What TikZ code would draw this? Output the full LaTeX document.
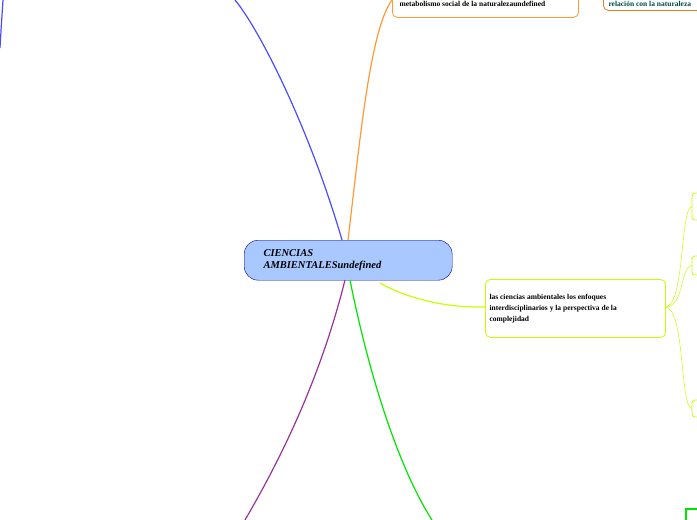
\documentclass[tikz,border=0pt]{standalone}
\usepackage{fontspec}
\setmainfont{Liberation Serif}
\definecolor{cfill}{HTML}{A8C8FF}
\begin{document}
\begin{tikzpicture}[x=1pt,y=-1pt,
  leaf/.style={draw=#1,rounded corners=5pt,line width=0.8pt,fill=white,inner sep=3pt,anchor=north west},
  br/.style={line width=1.2pt}]
\useasboundingbox (0,0) rectangle (697,520);
\node[draw=blue!60!black,fill=cfill,rounded corners=14pt,minimum width=208pt,minimum height=40pt,anchor=north west,inner sep=0pt] (c) at (244,240) {};
\node[font=\bfseries\itshape\fontsize{10.5}{11.5}\selectfont,align=left,anchor=west] (ct) at (260,260) {CIENCIAS\\AMBIENTALESundefined};
\draw[br,blue!70] (342,240) .. controls (310,130) and (260,30) .. (235,0);
\draw[br,blue!70] (0,48) .. controls (1,30) and (2,15) .. (3,0);
\node[leaf=orange!80,minimum width=186pt,minimum height=30pt] (m) at (392,-13) {};
\node[font=\bfseries\fontsize{7.5}{9}\selectfont,anchor=west] (mt) at (396,4) {metabolismo social de la naturalezaundefined};
\draw[br,orange!80] (348,240) .. controls (360,140) and (370,30) .. (392,0);
\node[leaf=orange!50!brown,minimum width=120pt,minimum height=30pt] (r) at (603,-20) {};
\node[font=\bfseries\fontsize{7.5}{9}\selectfont,text=teal!60!black,anchor=west] (rt) at (605,4) {relación con la naturaleza};
\draw[br,violet!80] (345,280) .. controls (320,380) and (280,460) .. (245,520);
\draw[br,green!90!black] (350,280) .. controls (370,380) and (400,470) .. (432,520);
\node[leaf=lime!90!yellow,minimum width=180pt,minimum height=58pt] (y) at (485,279) {};
\node[font=\bfseries\fontsize{7.5}{11}\selectfont,align=left,anchor=north west] (yt) at (486,291) {las ciencias ambientales los enfoques\\interdisciplinarios y la perspectiva de la\\complejidad};
\draw[br,lime!90!yellow] (380,283) .. controls (410,300) and (450,308) .. (485,307);
\foreach \yy/\hh in {193/27,256/19,400/17}{
  \draw[line width=0.5pt,lime!90!yellow] (665,307) .. controls (685,307) and (680,\yy+\hh/2) .. (692,\yy+\hh/2);
  \draw[line width=0.8pt,lime!90!yellow,rounded corners=3pt] (697,\yy) -- (692,\yy) -- (692,\yy+\hh) -- (697,\yy+\hh);
}
\draw[line width=1.2pt,green!90!black] (686,520) -- (686,509) -- (697,509);
\end{tikzpicture}
\end{document}
